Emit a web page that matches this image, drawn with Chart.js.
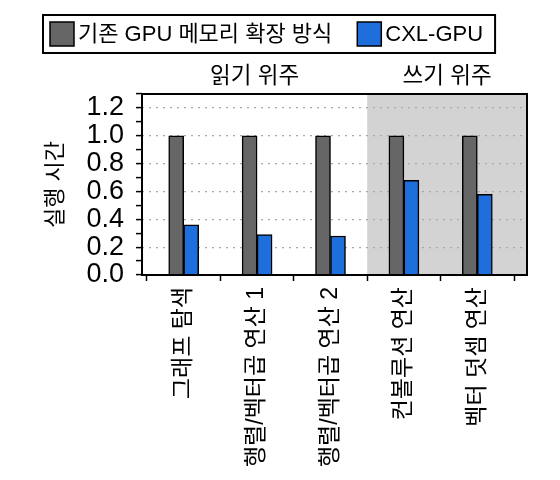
<!DOCTYPE html>
<html>
<head>
<meta charset="utf-8">
<script src="https://cdn.jsdelivr.net/npm/chart.js@4"></script>
<style>
  html, body { margin: 0; padding: 0; background: #fff; }
  canvas { display: block; background: #fff; }
</style>
</head>
<body>
<canvas id="execChart" width="560" height="480"></canvas>
<script>
const FONT = '"Liberation Sans", "Noto Sans CJK KR", sans-serif';

const categories = ["그래프 탐색", "행렬/벡터곱 연산 1", "행렬/벡터곱 연산 2", "컨볼루션 연산", "벡터 덧셈 연산"];
const seriesNames = ["기존 GPU 메모리 확장 방식", "CXL-GPU"];
const baselineValues = [1.0, 1.0, 1.0, 1.0, 1.0];
const cxlValues = [0.36, 0.29, 0.28, 0.68, 0.58];
const yTickLabels = ["0.0", "0.2", "0.4", "0.6", "0.8", "1.0", "1.2"];
const groupLabels = ["읽기 위주", "쓰기 위주"];
const groupStarts = [0, 3];

const toPoints = (vals) => vals.map((v, i) => ({ x: i, y: v }));

// shaded "write" region, drawn under the grid
const groupShade = {
  id: "groupShade",
  beforeDraw(chart) {
    const { ctx, chartArea, scales } = chart;
    const x0 = scales.x.getPixelForValue(groupStarts[1] - 0.5);
    ctx.save();
    ctx.fillStyle = "#d3d3d3";
    ctx.fillRect(x0, chartArea.top, chartArea.right - x0, chartArea.bottom - chartArea.top);
    ctx.restore();
  },
};

// frame, group titles and boxed legend
const frameAndLegend = {
  id: "frameAndLegend",
  afterDraw(chart) {
    const { ctx, chartArea, scales } = chart;
    ctx.save();
    ctx.strokeStyle = "#000";
    ctx.lineWidth = 2;
    ctx.strokeRect(chartArea.left, chartArea.top, chartArea.right - chartArea.left, chartArea.bottom - chartArea.top);

    ctx.fillStyle = "#000";
    ctx.font = "22.5px " + FONT;
    ctx.textAlign = "center";
    ctx.textBaseline = "middle";
    groupLabels.forEach((g, i) => {
      const l = i === 0 ? chartArea.left : scales.x.getPixelForValue(groupStarts[i] - 0.5);
      const r = i === groupLabels.length - 1 ? chartArea.right : scales.x.getPixelForValue(groupStarts[i + 1] - 0.5);
      ctx.fillText(g, (l + r) / 2, chartArea.top - 17);
    });

    const top = 15, h = 38, cy = top + h / 2, left = 43;
    let x = left + 7;
    ctx.font = "22px " + FONT;
    ctx.textAlign = "left";
    const sets = chart.data.datasets;
    sets.forEach((ds, i) => {
      ctx.fillStyle = ds.backgroundColor;
      ctx.fillRect(x, cy - 12, 24, 24);
      ctx.lineWidth = 1.5;
      ctx.strokeRect(x, cy - 12, 24, 24);
      x += 28;
      ctx.fillStyle = "#000";
      ctx.fillText(ds.label, x, cy + 1);
      x += ctx.measureText(ds.label).width + (i < sets.length - 1 ? 25 : 12);
    });
    ctx.lineWidth = 2;
    ctx.strokeRect(left, top, x - left, h);
    ctx.restore();
  },
};

const xTicks = [];
for (let i = 0; i <= categories.length * 2; i++) xTicks.push({ value: -0.5 + i / 2 });

new Chart(document.getElementById("execChart"), {
  type: "bar",
  data: {
    datasets: [
      {
        label: seriesNames[0],
        data: toPoints(baselineValues),
        backgroundColor: "#666666",
        borderColor: "#000",
        borderWidth: 1.5,
      },
      {
        label: seriesNames[1],
        data: toPoints(cxlValues),
        backgroundColor: "#1e6fdc",
        borderColor: "#000",
        borderWidth: 1.5,
      },
    ],
  },
  options: {
    responsive: false,
    animation: false,
    barThickness: 15,
    layout: { padding: { top: 94, left: 40, right: 33, bottom: 0 } },
    scales: {
      x: {
        type: "linear",
        min: -0.568,
        max: 4.677,
        offset: false,
        afterBuildTicks: (s) => { s.ticks = xTicks.map((t) => ({ value: t.value })); },
        afterFit: (s) => { s.height = 205; },
        border: { display: false },
        grid: {
          offset: false,
          drawOnChartArea: false,
          tickLength: 6,
          tickWidth: 1.5,
          tickColor: (c) => (c.tick && Number.isInteger(c.tick.value) ? "transparent" : "#000"),
        },
        ticks: {
          autoSkip: false,
          minRotation: 90,
          maxRotation: 90,
          padding: 6,
          color: "#000",
          font: { family: FONT, size: 23 },
          callback: (v) => (Number.isInteger(v) ? categories[v] : ""),
        },
      },
      y: {
        min: 0,
        max: 1.3,
        afterFit: (s) => { s.width = 102; },
        border: { display: false, dash: [2, 5] },
        grid: {
          color: (c) => (c.tick && c.tick.value > 0 && yTickLabels.includes(c.tick.value.toFixed(1)) ? "#a8a8a8" : "transparent"),
          lineWidth: 1.2,
          tickLength: 6,
          tickWidth: 1.5,
          tickColor: "#000",
        },
        ticks: {
          autoSkip: false,
          stepSize: 0.1,
          padding: 12,
          color: "#000",
          font: { family: FONT, size: 27 },
          callback: (v) => (yTickLabels.includes(v.toFixed(1)) ? v.toFixed(1) : ""),
        },
        title: {
          display: true,
          text: "실행 시간",
          color: "#000",
          font: { family: FONT, size: 22 },
          padding: { top: 3, bottom: 4 },
        },
      },
    },
    plugins: {
      legend: { display: false },
      tooltip: { enabled: false },
    },
  },
  plugins: [groupShade, frameAndLegend],
});
</script>
</body>
</html>
